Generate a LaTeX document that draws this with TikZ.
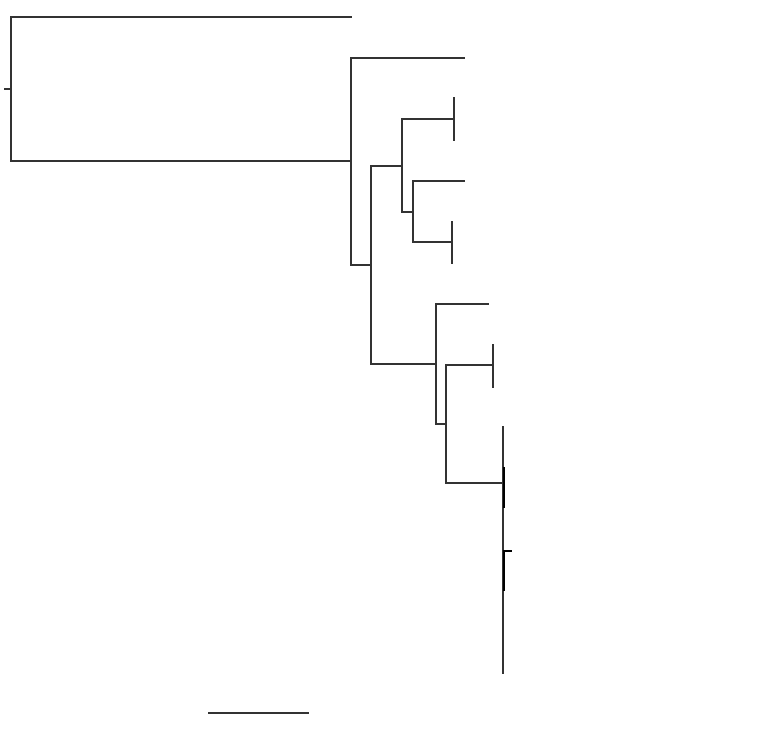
\documentclass[tikz,border=0pt]{standalone}
\usetikzlibrary{positioning}
\tikzset{
  branch/.style={line width=1.1pt,draw=black!80,line cap=rect},
  dense/.style={branch,line width=1.6pt,draw=black}
}

\begin{document}
\begin{tikzpicture}[x=1pt,y=-1pt]
  \useasboundingbox (0,0) rectangle (768,736);
  % internal nodes
  \coordinate (stub) at (5,89);
  \coordinate (root) at (11,89);
  \coordinate (nA) at (351,161);
  \coordinate (nB) at (371,265);
  \coordinate (nC) at (402,166);
  \coordinate (nD) at (454,119);
  \coordinate (nE) at (413,212);
  \coordinate (nF) at (452,242);
  \coordinate (nG) at (436,364);
  \coordinate (nH) at (446,424);
  \coordinate (nI) at (493,365);
  \coordinate (nJ) at (503,483);
  \coordinate (nK) at (503.8,486);
  \coordinate (nL) at (503.8,570);
  % tips
  \coordinate (t1) at (351,17);
  \coordinate (t2) at (464,58);
  \coordinate (t3) at (454,98);
  \coordinate (t4) at (454,140);
  \coordinate (t5) at (464,181);
  \coordinate (t6) at (452,222);
  \coordinate (t7) at (452,263);
  \coordinate (t8) at (488,304);
  \coordinate (t9) at (493,345);
  \coordinate (t10) at (493,387);
  \coordinate (t11) at (503,427);
  \coordinate (t12) at (503,673);
  \coordinate (t13) at (503.8,468);
  \coordinate (t14) at (503.8,507);
  \coordinate (t15) at (511,551);
  \coordinate (t16) at (503.8,590);
  % scale bar
  \coordinate (barL) at (209,713);
  \coordinate (barR) at (308,713);

  \draw[branch] (stub) -- (root);
  \foreach \p/\c in {root/t1,root/nA,nA/t2,nA/nB,nB/nC,nB/nG,nC/nD,nC/nE,
      nD/t3,nD/t4,nE/t5,nE/nF,nF/t6,nF/t7,nG/t8,nG/nH,nH/nI,nH/nJ,
      nI/t9,nI/t10,nJ/t11,nJ/t12}
    \draw[branch] (\p) |- (\c);
  \foreach \p/\c in {nK/t13,nK/t14,nL/t15,nL/t16}
    \draw[dense] (\p) |- (\c);
  \draw[branch] (barL) -- (barR);
\end{tikzpicture}
\end{document}
